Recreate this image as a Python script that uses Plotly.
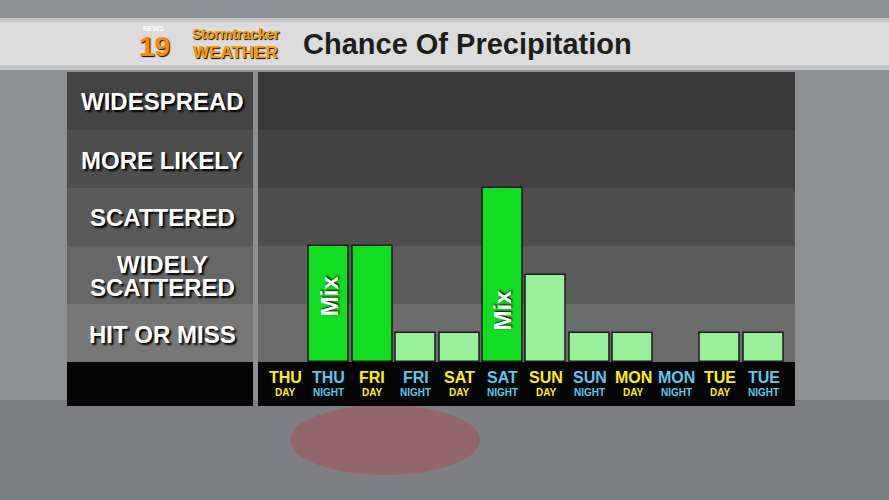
import plotly.graph_objects as go

days = ["THU", "THU", "FRI", "FRI", "SAT", "SAT", "SUN", "SUN", "MON", "MON", "TUE", "TUE"]
periods = ["DAY", "NIGHT"] * 6
values = [0, 2, 2, 0.5, 0.5, 3, 1.5, 0.5, 0.5, 0, 0.5, 0.5]
row_labels = ["HIT OR MISS", "WIDELY|SCATTERED", "SCATTERED", "MORE LIKELY", "WIDESPREAD"]
mix_slots = [1, 5]
mix_y = [1.15, 0.9]

W, H = 889, 500
def px(x): return x / W
def py(y): return 1 - y / H

xd = [px(263.75), px(785.25)]
yd = [py(362), py(72)]

cats = list(range(len(values)))
colors = ["#12dd22" if v >= 2 else "#9af09a" for v in values]
lw = [1.5 if v > 0 else 0 for v in values]

fig = go.Figure()
fig.add_trace(go.Bar(x=cats, y=values, width=0.92, marker=dict(color=colors, line=dict(color="#1a1a1a", width=lw)),
                     hoverinfo="skip"))

shapes = []
shapes.append(dict(type="rect", xref="paper", yref="paper", x0=0, x1=1, y0=0, y1=1, fillcolor="#8e9093", line_width=0, layer="below"))
shapes.append(dict(type="rect", xref="paper", yref="paper", x0=0, x1=1, y0=0, y1=py(400), fillcolor="#7d7f82", line_width=0, layer="below"))
shapes.append(dict(type="rect", xref="paper", yref="paper", x0=0, x1=1, y0=py(70), y1=py(18), fillcolor="#c4c6c8", line_width=0, layer="below"))
shapes.append(dict(type="rect", xref="paper", yref="paper", x0=0, x1=1, y0=py(65), y1=py(22), fillcolor="#dcdcdc", line_width=0, layer="below"))
shapes.append(dict(type="circle", xref="paper", yref="paper", x0=px(290), y0=py(475), x1=px(480), y1=py(405), fillcolor="#b04a50", opacity=0.45, line_width=0, layer="below"))
band_cols = ["#6c6c6c", "#5c5c5c", "#4e4e4e", "#434343", "#393939"]
lab_cols = ["#777777", "#676767", "#5a5a5a", "#4e4e4e", "#444444"]
for i in range(5):
    y0 = py(362 - 58 * i); y1 = py(362 - 58 * (i + 1))
    shapes.append(dict(type="rect", xref="paper", yref="paper", x0=px(258), x1=px(795), y0=y0, y1=y1, fillcolor=band_cols[i], line_width=0, layer="below"))
    shapes.append(dict(type="rect", xref="paper", yref="paper", x0=px(67), x1=px(253), y0=y0, y1=y1, fillcolor=lab_cols[i], line_width=0, layer="below"))
shapes.append(dict(type="rect", xref="paper", yref="paper", x0=px(258), x1=px(795), y0=py(406), y1=py(362), fillcolor="#050505", line_width=0, layer="below"))
shapes.append(dict(type="rect", xref="paper", yref="paper", x0=px(67), x1=px(253), y0=py(406), y1=py(362), fillcolor="#050505", line_width=0, layer="below"))

def A(x, y, text, font, xref="paper", yref="paper", **kw):
    return dict(x=x, y=y, xref=xref, yref=yref, text=text, showarrow=False, xanchor="center", yanchor="middle", font=font, **kw)

lab_font = dict(family="Liberation Sans", size=24, color="white", weight="bold", shadow="2px 2px 2px black")
ann = []
for i, lab in enumerate(row_labels):
    yc = 362 - 58 * i - 28
    parts = lab.split("|")
    if len(parts) == 1:
        ann.append(A(px(162), py(yc), lab, lab_font))
    else:
        ann.append(A(px(162), py(yc - 12), parts[0], lab_font))
        ann.append(A(px(162), py(yc + 11), parts[1], lab_font))
for i, (d, p) in enumerate(zip(days, periods)):
    c = "#fff200" if p == "DAY" else "#5cc8f0"
    ann.append(A(i, py(377), d, dict(family="Liberation Sans", size=16, color=c, weight="bold"), xref="x"))
    ann.append(A(i, py(392), p, dict(family="Liberation Sans", size=10, color=c, weight="bold"), xref="x"))
for s, yy in zip(mix_slots, mix_y):
    ann.append(A(s, yy, "Mix", dict(family="Liberation Sans", size=24, color="white", weight="bold", shadow="1px 1px 2px black"),
                 xref="x", yref="y", textangle=-90))
ann.append(A(px(467), py(44), "Chance Of Precipitation", dict(family="Liberation Sans", size=29, color="#1e1e1e", weight="bold")))
ann.append(A(px(154), py(47), "19", dict(family="Liberation Sans", size=28, color="#ff8a00", weight="bold", shadow="1px 1px 1px black")))
ann.append(A(px(236), py(34), "Stormtracker", dict(family="Liberation Sans", size=14, color="#f5a000", weight="bold", shadow="1px 1px 1px black")))
ann.append(A(px(236), py(53), "WEATHER", dict(family="Liberation Sans", size=17, color="#ff9a00", weight="bold", shadow="1px 1px 1px black")))
ann.append(A(px(153), py(28), "NEWS", dict(family="Liberation Sans", size=7, color="white", weight="bold")))

fig.update_layout(width=W, height=H, margin=dict(l=0, r=0, t=0, b=0), showlegend=False,
                  paper_bgcolor="#8e9093", plot_bgcolor="rgba(0,0,0,0)", shapes=shapes, annotations=ann, bargap=0,
                  xaxis=dict(domain=xd, range=[-0.5, 11.5], showticklabels=False, showgrid=False, zeroline=False, fixedrange=True),
                  yaxis=dict(domain=yd, range=[0, 5], showticklabels=False, showgrid=False, zeroline=False, fixedrange=True))
fig.write_html("out.html", config={"displayModeBar": False}, post_script="document.body.style.margin='0';")
